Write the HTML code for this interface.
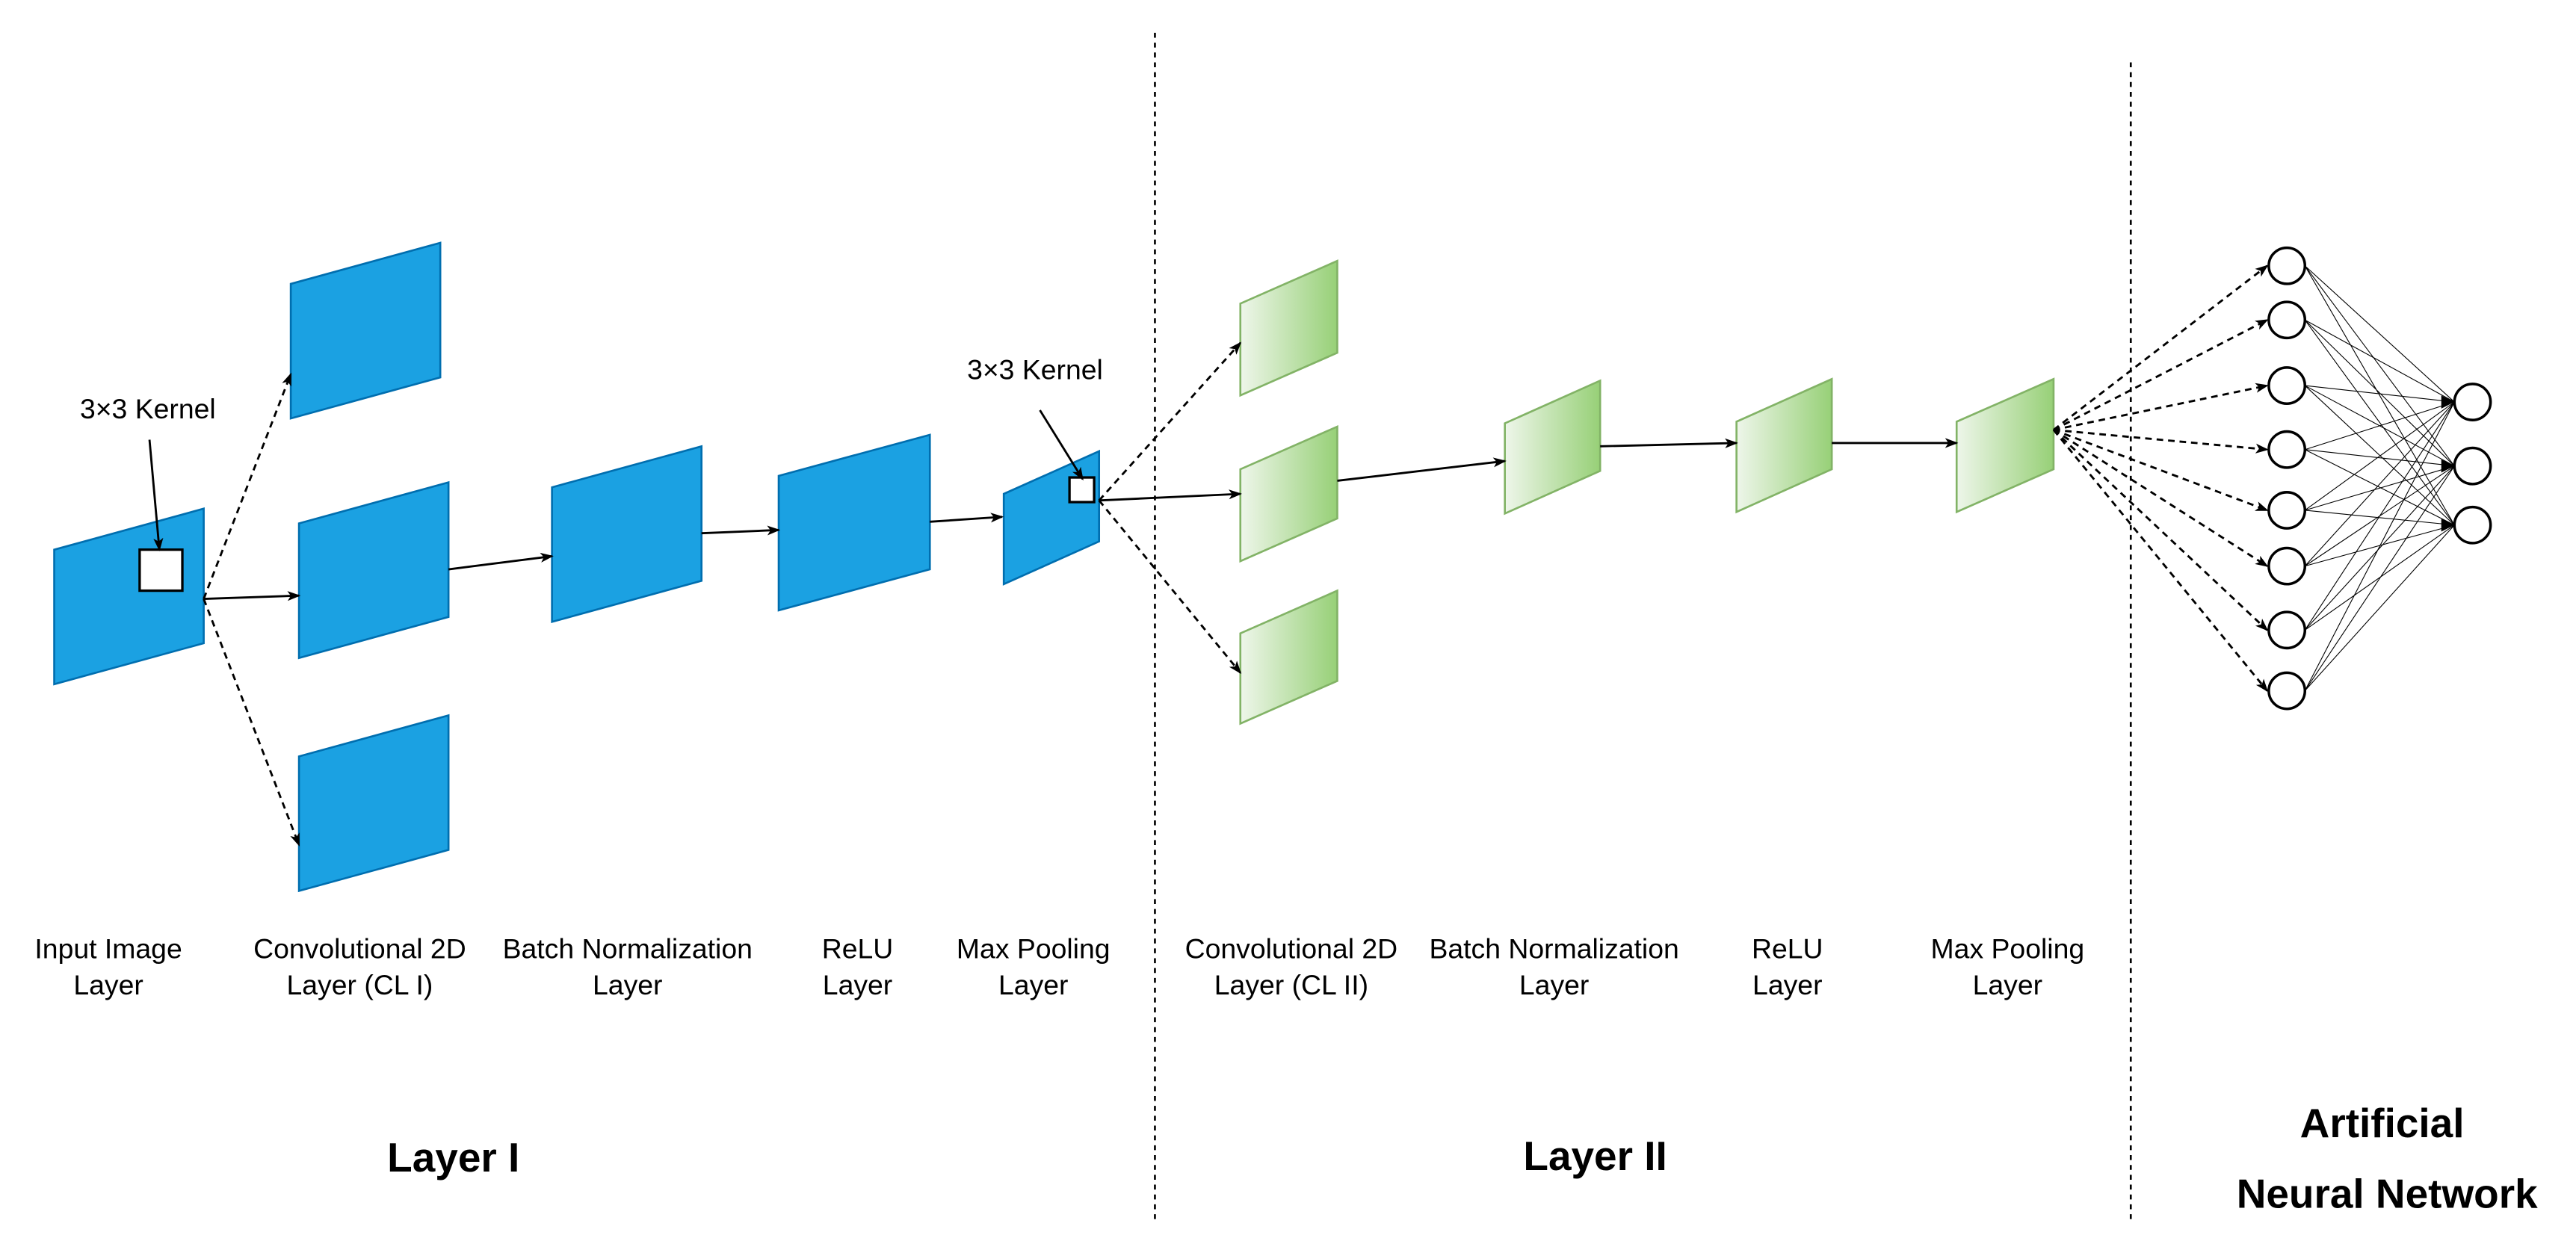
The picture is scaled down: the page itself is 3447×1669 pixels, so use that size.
<!DOCTYPE html>
<html><head><meta charset="utf-8"><style>html,body{margin:0;padding:0;background:#fff}svg{display:block}</style></head>
<body>
<svg width="3447" height="1669" viewBox="0 0 1568 760" preserveAspectRatio="none" xmlns="http://www.w3.org/2000/svg" font-family="Liberation Sans, sans-serif">
<defs>
<marker id="a" markerWidth="8" markerHeight="8" refX="7" refY="4" orient="auto" markerUnits="userSpaceOnUse"><path d="M0,1 L8,4 L0,7 L2,4 Z" fill="#000"/></marker>
<linearGradient id="g" x1="0" x2="1" y1="0" y2="0"><stop offset="0" stop-color="#eef6ea"/><stop offset="1" stop-color="#97d077"/></linearGradient>
</defs>
<g fill="#1ba1e2" stroke="#006eaf" stroke-width="1.2">
<polygon points="33,335 124,310 124,392 33,417"/>
<polygon points="177,173 268,148 268,230 177,255"/>
<polygon points="182,319 273,294 273,376 182,401"/>
<polygon points="182,461 273,436 273,518 182,543"/>
<polygon points="336,297 427,272 427,354 336,379"/>
<polygon points="474,290 566,265 566,347 474,372"/>
<polygon points="611,301 669,275 669,330 611,356"/>
</g>
<g fill="url(#g)" stroke="#82b366" stroke-width="1.2">
<polygon points="755,185 814,159 814,215 755,241"/>
<polygon points="755,286 814,260 814,316 755,342"/>
<polygon points="755,386 814,360 814,415 755,441"/>
<polygon points="916,258 974,232 974,287 916,313"/>
<polygon points="1057,257 1115,231 1115,286 1057,312"/>
<polygon points="1191,257 1250,231 1250,286 1191,312"/>
</g>
<rect x="85" y="335" width="26" height="25" fill="#fff" stroke="#000" stroke-width="1.5"/>
<rect x="651" y="291" width="15" height="15" fill="#fff" stroke="#000" stroke-width="1.5"/>
<g stroke="#000" stroke-width="1.3" fill="none" marker-end="url(#a)">
<line x1="91" y1="268" x2="97" y2="335"/>
<line x1="633" y1="250" x2="659" y2="292"/>
<line x1="124" y1="365" x2="182" y2="363"/>
<line x1="273" y1="347" x2="336" y2="339"/>
<line x1="427" y1="325" x2="474" y2="323"/>
<line x1="566" y1="318" x2="610" y2="315"/>
<line x1="669" y1="305" x2="755" y2="301"/>
<line x1="814" y1="293" x2="916" y2="281"/>
<line x1="974" y1="272" x2="1057" y2="270"/>
<line x1="1115" y1="270" x2="1191" y2="270"/>
</g>
<g stroke="#000" stroke-width="1.3" fill="none" stroke-dasharray="4 3" marker-end="url(#a)">
<line x1="124" y1="365" x2="177" y2="228"/>
<line x1="124" y1="365" x2="182" y2="515"/>
<line x1="669" y1="305" x2="755" y2="209"/>
<line x1="669" y1="305" x2="755" y2="410"/>
<line x1="1250" y1="262" x2="1380" y2="162"/>
<line x1="1250" y1="262" x2="1380" y2="195"/>
<line x1="1250" y1="262" x2="1380" y2="235"/>
<line x1="1250" y1="262" x2="1380" y2="274"/>
<line x1="1250" y1="262" x2="1380" y2="311"/>
<line x1="1250" y1="262" x2="1380" y2="345"/>
<line x1="1250" y1="262" x2="1380" y2="384"/>
<line x1="1250" y1="262" x2="1380" y2="421"/>
</g>
<g stroke="#000" stroke-width="0.5" fill="none">
<path d="M1403,162L1494,245M1403,162L1494,284M1403,162L1494,320
M1403,195L1494,245M1403,195L1494,284M1403,195L1494,320
M1403,235L1494,245M1403,235L1494,284M1403,235L1494,320
M1403,274L1494,245M1403,274L1494,284M1403,274L1494,320
M1403,311L1494,245M1403,311L1494,284M1403,311L1494,320
M1403,345L1494,245M1403,345L1494,284M1403,345L1494,320
M1403,384L1494,245M1403,384L1494,284M1403,384L1494,320
M1403,421L1494,245M1403,421L1494,284M1403,421L1494,320"/>
</g>
<g fill="#000"><path d="M1494,245l-8,-4v8z M1494,284l-8,-4v8z M1494,320l-8,-4v8z"/></g>
<g fill="#fff" stroke="#000" stroke-width="1.6">
<circle cx="1392" cy="162" r="11"/><circle cx="1392" cy="195" r="11"/><circle cx="1392" cy="235" r="11"/><circle cx="1392" cy="274" r="11"/>
<circle cx="1392" cy="311" r="11"/><circle cx="1392" cy="345" r="11"/><circle cx="1392" cy="384" r="11"/><circle cx="1392" cy="421" r="11"/>
<circle cx="1505" cy="245" r="11"/><circle cx="1505" cy="284" r="11"/><circle cx="1505" cy="320" r="11"/>
</g>
<g stroke="#000" stroke-width="1.2" stroke-dasharray="3 3">
<line x1="703" y1="20" x2="703" y2="745"/>
<line x1="1297" y1="38" x2="1297" y2="745"/>
</g>
<g font-size="17" text-anchor="middle" fill="#000">
<text x="90" y="255">3×3 Kernel</text>
<text x="630" y="231">3×3 Kernel</text>
<text x="66" y="584">Input Image</text><text x="66" y="606">Layer</text>
<text x="219" y="584">Convolutional 2D</text><text x="219" y="606">Layer (CL I)</text>
<text x="382" y="584">Batch Normalization</text><text x="382" y="606">Layer</text>
<text x="522" y="584">ReLU</text><text x="522" y="606">Layer</text>
<text x="629" y="584">Max Pooling</text><text x="629" y="606">Layer</text>
<text x="786" y="584">Convolutional 2D</text><text x="786" y="606">Layer (CL II)</text>
<text x="946" y="584">Batch Normalization</text><text x="946" y="606">Layer</text>
<text x="1088" y="584">ReLU</text><text x="1088" y="606">Layer</text>
<text x="1222" y="584">Max Pooling</text><text x="1222" y="606">Layer</text>
</g>
<g font-size="25" font-weight="bold" text-anchor="middle" fill="#000">
<text x="276" y="714">Layer I</text>
<text x="971" y="713">Layer II</text>
<text x="1450" y="693">Artificial</text>
<text x="1453" y="736">Neural Network</text>
</g>
</svg>
</body></html>
